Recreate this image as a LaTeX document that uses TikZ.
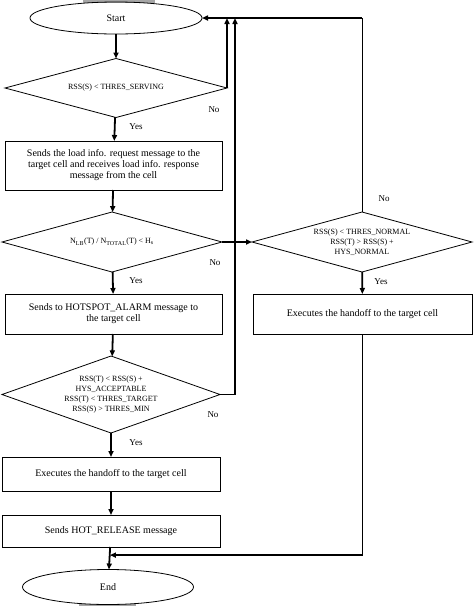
\documentclass[tikz,border=0pt]{standalone}
\usepackage{fontspec}
\setmainfont{Liberation Serif}
\usetikzlibrary{shapes.geometric,arrows.meta,calc}
\begin{document}
\begin{tikzpicture}[x=1pt,y=-1pt,
  box/.style={draw, line width=0.8pt, rectangle, inner sep=0pt, outer sep=0pt, align=center, font=\fontsize{10}{11}\selectfont},
  term/.style={draw, ellipse, line width=0.8pt, inner sep=0pt, outer sep=0pt, font=\fontsize{10}{12}\selectfont},
  decision/.style={draw, diamond, line width=0.8pt, inner sep=0pt, outer sep=0pt, align=center, font=\fontsize{8}{9.8}\selectfont},
  flow/.style={line width=1.8pt, -{Triangle[length=6pt,width=5pt]}},
  link/.style={line width=1.8pt},
  thinlink/.style={line width=1pt},
  lbl/.style={font=\fontsize{9}{10}\selectfont, inner sep=0pt}]
\useasboundingbox (0,0) rectangle (474,606);
\fill[white] (0,0) rectangle (474,606);

% artefact bars
\fill[gray!70] (83,0) rectangle (155,2.5);
\fill[gray!70] (79,603.5) rectangle (136,606);

% left column
\node[term, minimum width=172pt, minimum height=32pt] (start) at (116,18) {Start};
\node[decision, minimum width=222pt, minimum height=59pt, aspect=3.76] (d1) at (116,88) {RSS(S) < THRES\_SERVING};
\node[box, minimum width=217pt, minimum height=49pt] (b1) at (113.5,165.5)
  {Sends the load info. request message to the\\target cell and receives load info. response\\message from the cell};
\node[decision, minimum width=220pt, minimum height=60pt, aspect=3.67] (d2) at (112,242)
  {N$_{\mathrm{LB}}$(T) / N$_{\mathrm{TOTAL}}$(T) < H$_{\mathrm{s}}$};
\node[box, minimum width=217pt, minimum height=40pt] (b2) at (113.5,314)
  {Sends to HOTSPOT\_ALARM message to\\the target cell};
\node[decision, minimum width=218pt, minimum height=77pt, aspect=2.83] (d3) at (111,394.5)
  {RSS(T) < RSS(S) +\\HYS\_ACCEPTABLE\\RSS(T) < THRES\_TARGET\\RSS(S) > THRES\_MIN};
\node[box, minimum width=218pt, minimum height=34pt] (b3) at (111,474) {Executes the handoff to the target cell};
\node[box, minimum width=218pt, minimum height=32pt] (b4) at (111,531) {Sends HOT\_RELEASE message};
\node[term, minimum width=171pt, minimum height=35pt] (end) at (108,587) {End};

% right column
\node[decision, minimum width=220pt, minimum height=60pt, aspect=3.67] (dr) at (362,242)
  {RSS(S) < THRES\_NORMAL\\RSS(T) > RSS(S) +\\HYS\_NORMAL};
\node[box, minimum width=219pt, minimum height=40pt] (br) at (362.5,314) {Executes the handoff to the target cell};

% helper coordinates
\coordinate (up1) at (227,18);
\coordinate (up3) at (235,18);
\coordinate (merge) at ($(b4.south)!0.36!(end.north)$);

% main flow
\draw[flow] (start) -- (d1);
\draw[flow] (d1) -- (b1);
\draw[flow] (b1) -- (d2);
\draw[flow] (d2) -- (b2);
\draw[flow] (b2) -- (d3);
\draw[flow] (d3) -- (b3);
\draw[flow] (b3) -- (b4);
\draw[flow] (b4) -- (end);

% No branches
\draw[flow] (d1.east) -| (up1);
\draw[flow] (d3.east) -| (up3);
\draw[flow] (d2.east) -- (dr.west);
\draw[thinlink] (dr.north) -- (dr.north |- start.east);
\draw[flow] (dr.north |- start.east) -- (start.east);

% right Yes branch
\draw[flow] (dr) -- (br);
\draw[thinlink] (br.south) -- (br.south |- merge);
\draw[flow] (br.south |- merge) -- (merge);

% labels
\node[lbl] (no1) at (214,110) {No};
\node[lbl] (no2) at (215,263) {No};
\node[lbl] (no3) at (213,415) {No};
\node[lbl] (no4) at (384,199) {No};
\node[lbl] (yes1) at (136,127) {Yes};
\node[lbl] (yes2) at (136,281) {Yes};
\node[lbl] (yes3) at (136,443) {Yes};
\node[lbl] (yes4) at (381,282) {Yes};
\end{tikzpicture}
\end{document}
